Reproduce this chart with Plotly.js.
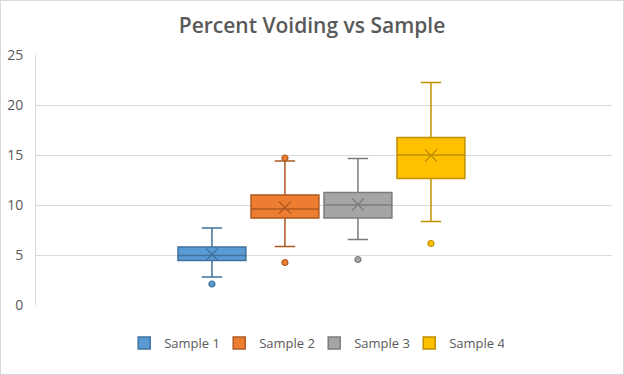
<!DOCTYPE html>
<html>
<head>
<meta charset="utf-8">
<script src="https://cdn.plot.ly/plotly-3.0.1.min.js"></script>
<style>
html,body{margin:0;padding:0;background:#fff;}
#frame{width:622px;height:373px;border:1px solid #d9d9d9;}
#chart{width:622px;height:373px;}
</style>
</head>
<body>
<div id="frame"><div id="chart"></div></div>
<script>
// Data
const categories = ["Sample 1", "Sample 2", "Sample 3", "Sample 4"];
const lowerWhisker = [2.8, 5.85, 6.55, 8.35];
const q1 = [4.45, 8.7, 8.7, 12.65];
const median = [4.95, 9.6, 10.0, 15.0];
const q3 = [5.8, 11.0, 11.25, 16.75];
const upperWhisker = [7.7, 14.4, 14.65, 22.25];
const means = [5.05, 9.75, 10.05, 14.95];
const outliers = [[2.1], [4.25, 14.7], [4.55], [6.15]];

const fillColors = ["#5b9bd5", "#ed7d31", "#a5a5a5", "#ffc000"];
const lineColors = ["#41719c", "#ae5a21", "#7c7c7c", "#bf9000"];

const traces = [];
categories.forEach((c, i) => {
  traces.push({
    type: "box",
    name: c,
    x: [c],
    q1: [q1[i]],
    median: [median[i]],
    q3: [q3[i]],
    lowerfence: [lowerWhisker[i]],
    upperfence: [upperWhisker[i]],
    width: 0.93,
    whiskerwidth: 0.3,
    fillcolor: fillColors[i],
    line: {color: lineColors[i], width: 1.5},
    marker: {color: fillColors[i]},
    hoverinfo: "skip",
    showlegend: true
  });
});
categories.forEach((c, i) => {
  traces.push({
    type: "scatter",
    mode: "markers",
    x: outliers[i].map(() => c),
    y: outliers[i],
    marker: {symbol: "circle", size: 6, color: fillColors[i], line: {color: lineColors[i], width: 1.2}},
    showlegend: false,
    hoverinfo: "skip"
  });
  traces.push({
    type: "scatter",
    mode: "markers",
    x: [c],
    y: [means[i]],
    marker: {symbol: "x-thin", size: 12, color: lineColors[i], line: {color: lineColors[i], width: 1.3}},
    showlegend: false,
    hoverinfo: "skip"
  });
});

const layout = {
  width: 622,
  height: 373,
  margin: {l: 35, r: 11, t: 54, b: 69, autoexpand: false},
  paper_bgcolor: "#ffffff",
  plot_bgcolor: "#ffffff",
  title: {
    text: "Percent Voiding vs Sample",
    font: {family: "Open Sans", size: 21, color: "#595959", weight: 600},
    x: 0.5, xref: "container", xanchor: "center",
    y: 1 - 25 / 373, yref: "container", yanchor: "middle"
  },
  xaxis: {
    type: "category",
    range: [-2.41, 5.48],
    autorange: false,
    showticklabels: false,
    showgrid: false,
    zeroline: false,
    showline: false,
    ticks: ""
  },
  yaxis: {
    range: [0, 25],
    autorange: false,
    dtick: 5,
    tick0: 0,
    showgrid: true,
    gridcolor: "#d9d9d9",
    gridwidth: 1,
    zeroline: false,
    showline: true,
    linecolor: "#d9d9d9",
    linewidth: 1,
    ticks: "outside",
    ticklen: 9,
    tickcolor: "rgba(0,0,0,0)",
    tickfont: {family: "Open Sans", size: 14, color: "#595959"}
  },
  showlegend: true,
  legend: {
    orientation: "h",
    x: 0.483,
    xanchor: "center",
    y: -0.152,
    yanchor: "middle",
    entrywidth: 50,
    entrywidthmode: "pixels",
    font: {family: "Open Sans", size: 13, color: "#595959"},
    traceorder: "normal"
  }
};

Plotly.newPlot("chart", traces, layout, {staticPlot: true, displayModeBar: false});
</script>
</body>
</html>
